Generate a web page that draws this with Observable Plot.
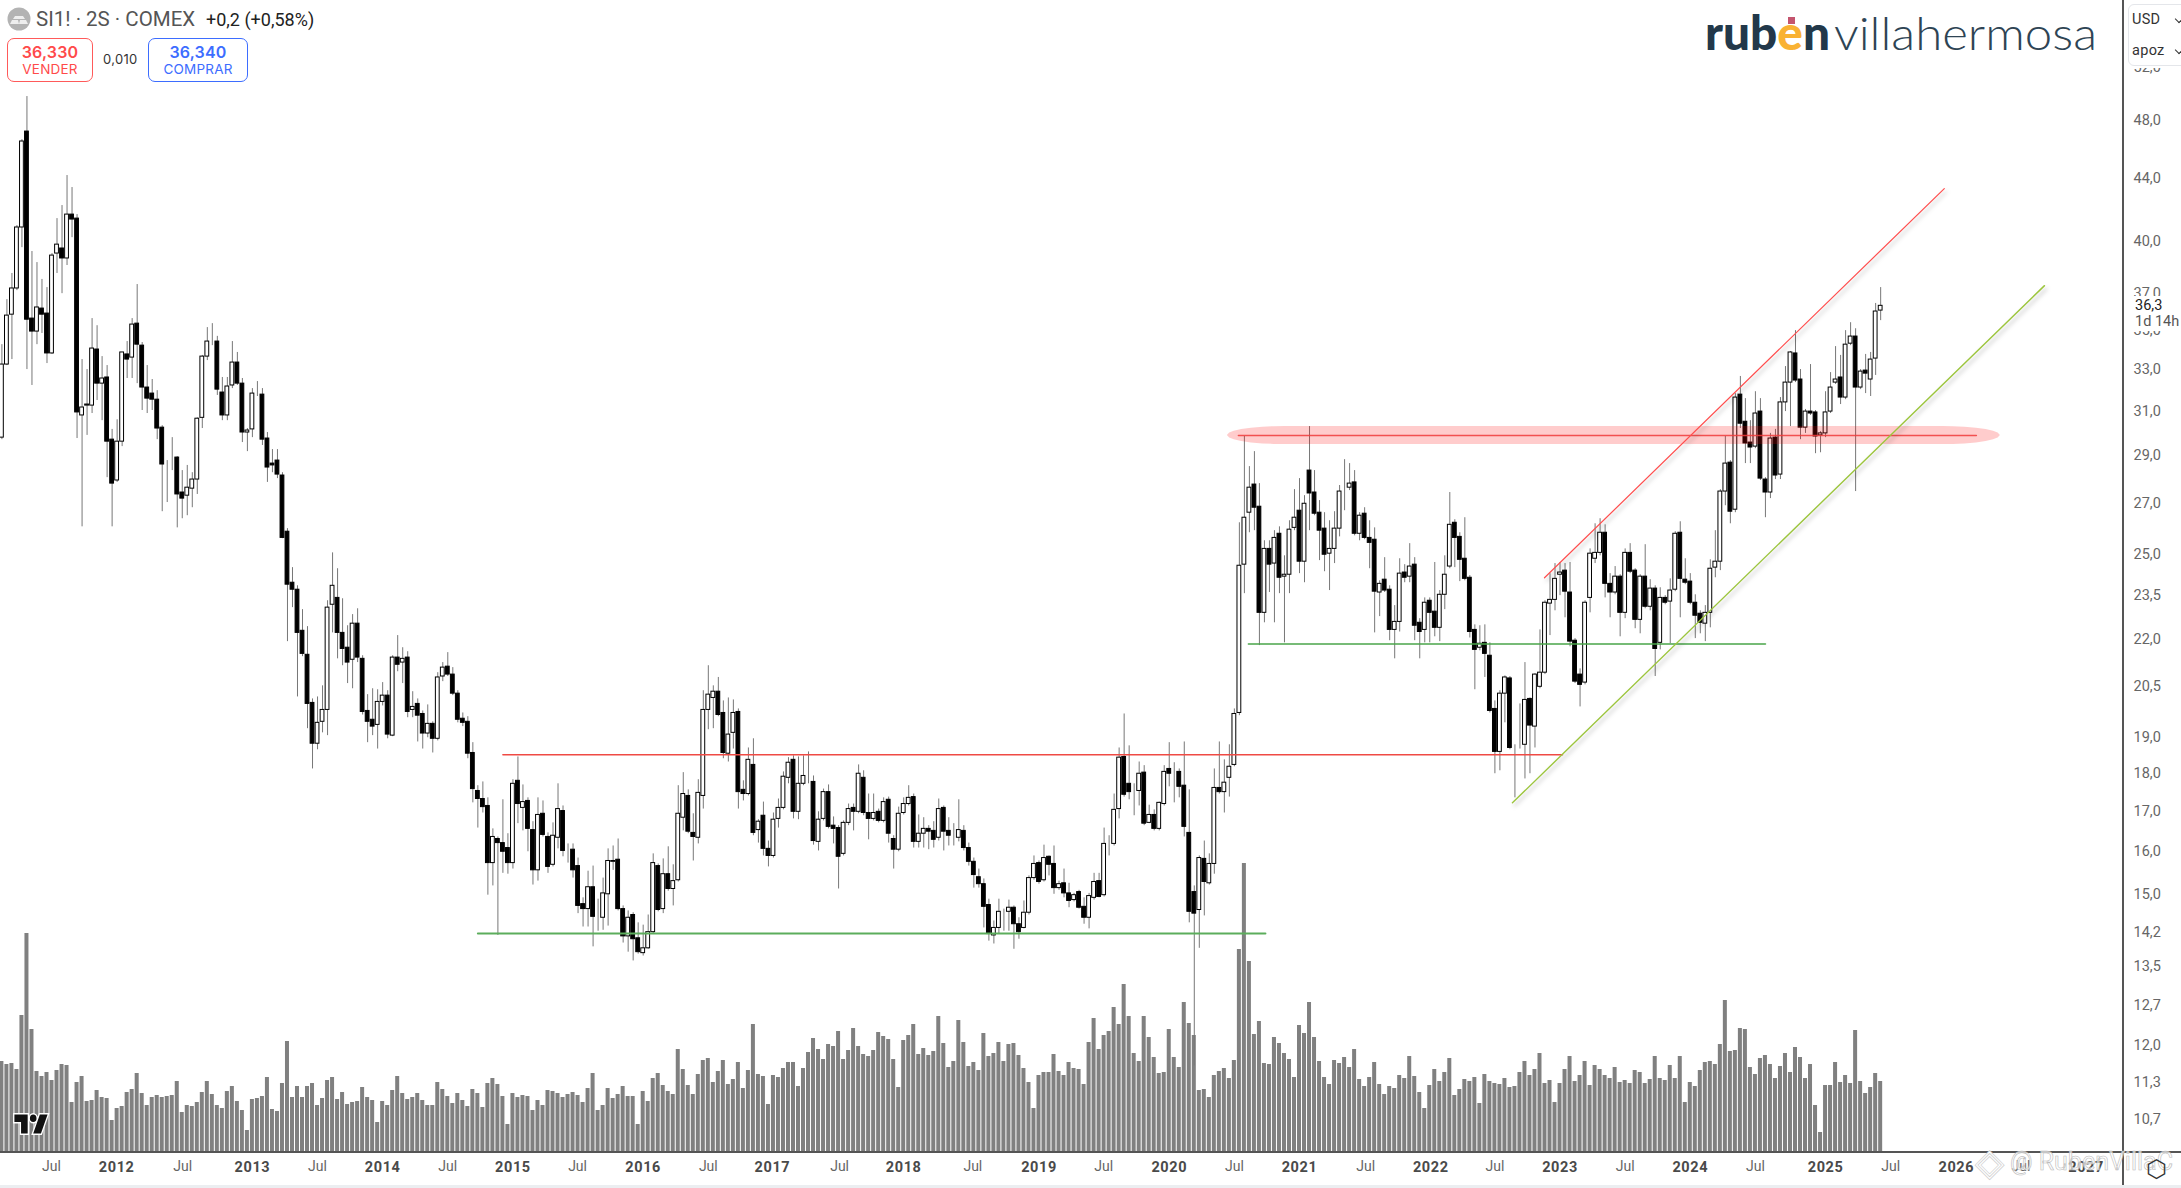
<!DOCTYPE html>
<html>
<head>
<meta charset="utf-8">
<script src="https://cdn.jsdelivr.net/npm/d3@7"></script>
<script src="https://cdn.jsdelivr.net/npm/@observablehq/plot@0.6"></script>
<style>
html,body{margin:0;padding:0;background:#fff;overflow:hidden}
#stage{position:relative;width:2181px;height:1188px;overflow:hidden;font-family:Roboto,sans-serif}
#stage svg.pl{position:absolute;left:0;top:0}
.ov{position:absolute;white-space:nowrap}
.btn{position:absolute;top:38px;height:42px;border:1px solid;border-radius:7px;text-align:center;box-sizing:content-box}
.btn b{display:block;font:600 16px/17px Inter,sans-serif;margin-top:5px;letter-spacing:.2px}
.btn span{display:block;font:400 13.5px/16px Inter,sans-serif;letter-spacing:.2px}
.tl{filter:drop-shadow(2px 3px 2px rgba(0,0,0,.28))}
.yr text{letter-spacing:.6px}
</style>
</head>
<body>
<div id="stage"></div>
<script>
const opens=[
29.80,33.26,35.85,37.29,40.87,47.21,35.64,34.95,36.18,35.91,
33.82,39.30,39.60,39.01,41.67,41.42,30.81,31.27,31.27,34.02,
32.32,32.62,29.71,27.94,29.62,33.77,33.61,35.37,34.22,32.13,
31.84,31.55,30.25,28.62,28.62,28.92,27.44,27.31,27.60,27.98,
30.70,33.66,34.43,34.43,31.89,30.81,32.23,33.36,32.32,30.03,
30.17,31.84,31.79,29.76,28.66,28.79,28.15,25.87,23.96,23.71,
22.29,21.50,20.00,18.81,19.44,19.79,23.18,23.42,22.22,21.73,
21.34,22.53,21.37,19.76,19.50,19.35,20.03,20.22,19.04,21.41,
21.25,21.41,19.79,19.97,19.67,19.10,19.38,18.95,20.81,21.12,
20.87,20.28,19.53,19.44,18.55,17.52,17.31,17.13,15.72,16.30,
16.20,16.08,15.72,17.79,17.08,17.26,16.52,15.55,16.93,16.35,
15.68,16.33,17.00,15.99,16.04,15.65,14.78,14.67,15.16,14.54,
14.48,15.00,15.75,15.80,14.67,14.08,14.54,14.04,13.73,13.83,
14.17,15.65,14.67,15.46,15.12,15.32,16.83,17.39,16.45,16.33,
17.39,19.79,20.15,20.34,19.70,18.53,19.12,19.73,17.55,17.44,
18.22,16.52,16.88,16.06,15.89,16.80,17.08,17.87,18.36,16.98,
17.71,17.87,17.76,16.23,16.80,17.49,16.63,16.57,15.94,16.70,
17.08,16.98,17.87,16.95,16.80,16.98,16.75,17.29,16.30,16.04,
16.95,17.18,17.36,16.23,16.43,16.55,16.50,16.33,17.08,16.50,
16.35,16.33,16.50,16.08,15.75,15.39,15.23,14.76,14.10,14.26,
14.61,14.61,14.70,14.34,14.26,14.59,15.37,15.72,15.32,15.87,
15.70,15.14,15.25,15.02,14.87,15.05,14.72,14.48,14.92,15.30,
14.98,16.18,16.18,17.05,18.44,17.71,17.52,17.52,18.01,16.70,
16.90,16.55,17.18,18.11,17.98,18.03,17.66,16.45,15.05,14.65,
15.82,15.25,15.70,17.60,17.49,17.87,18.22,19.70,24.62,26.62,
27.77,26.86,22.90,25.21,24.66,25.79,24.18,24.25,26.02,26.70,
24.73,28.36,27.44,26.62,25.99,25.03,25.21,25.99,27.60,27.64,
27.86,25.79,26.58,25.63,25.56,23.61,24.07,23.71,22.32,22.59,
24.33,24.18,24.62,22.56,22.32,23.32,22.94,22.39,23.53,24.55,
26.22,25.67,24.84,24.14,22.32,21.73,21.89,21.47,19.82,18.58,
20.28,20.75,18.69,18.78,18.78,20.12,19.30,20.49,20.93,23.22,
23.35,24.25,24.40,23.61,21.96,20.87,20.62,23.42,24.84,25.06,
25.83,23.92,23.61,24.18,22.90,25.06,24.40,22.66,24.18,23.11,
23.75,21.89,23.42,23.29,23.71,25.83,24.07,24.00,23.25,22.87,
22.53,22.90,24.51,24.73,27.48,28.70,26.74,31.79,30.52,29.58,
29.40,30.99,27.98,27.44,29.80,28.19,31.42,32.37,33.82,32.52,
30.25,30.99,30.95,29.90,29.99,30.99,32.37,32.62,31.65,34.32,
34.69,32.13,32.96,32.52,33.56,36.07];
const highs=[
34.27,36.67,38.14,40.99,46.64,49.76,39.42,38.77,37.80,37.34,
39.30,41.42,42.24,44.19,43.40,41.67,33.51,33.01,35.64,35.26,
33.66,33.21,30.17,30.61,33.87,34.43,35.64,37.51,34.38,33.21,
32.52,31.98,30.34,28.79,29.80,28.96,28.36,28.58,28.27,30.70,
33.72,35.16,35.37,34.70,32.62,32.62,34.43,33.87,32.57,30.21,
32.08,32.42,32.08,30.03,29.27,29.27,28.27,25.99,24.51,23.85,
23.01,22.43,20.12,20.18,20.52,23.32,25.06,24.47,23.39,22.46,
22.84,23.04,21.47,20.25,20.43,20.40,20.62,20.37,21.47,22.13,
21.73,21.60,20.34,20.12,19.76,19.94,19.44,20.93,21.25,21.57,
21.09,20.37,19.70,19.59,18.84,17.66,17.76,17.34,16.55,16.35,
17.29,16.43,17.82,18.44,17.68,17.34,16.73,17.34,17.26,16.45,
16.70,17.71,17.13,16.18,16.18,15.84,14.92,15.53,15.65,14.89,
15.37,16.06,16.13,16.30,14.74,14.63,14.59,14.37,14.32,14.54,
15.94,15.70,15.82,16.11,15.68,17.66,18.01,17.55,16.93,17.82,
20.37,21.15,20.52,20.78,20.06,20.15,20.09,19.82,17.79,18.69,
18.95,16.78,17.23,16.25,16.95,17.31,18.03,18.42,18.47,18.44,
18.47,18.58,17.92,16.98,17.57,17.68,16.85,16.63,16.75,17.18,
17.18,18.22,18.06,17.44,17.44,17.05,17.34,17.36,16.38,17.10,
17.34,17.66,17.44,16.90,16.83,16.63,16.73,17.31,17.13,16.83,
16.68,17.29,16.63,16.20,15.84,15.58,15.35,14.89,14.41,14.89,
14.67,14.87,14.74,14.48,14.85,15.42,15.89,15.77,16.15,15.89,
16.13,15.30,15.58,15.25,15.02,15.09,14.92,15.02,15.48,15.48,
16.57,16.38,17.44,18.69,19.67,18.75,17.71,18.30,18.20,17.15,
17.03,17.23,18.20,18.84,18.28,18.11,18.86,17.55,15.19,15.89,
16.25,15.94,18.11,18.86,18.36,18.78,19.82,26.22,29.85,28.53,
29.18,27.81,25.52,25.52,25.91,26.06,24.95,26.30,27.56,28.02,
27.31,30.30,28.36,27.11,26.62,26.30,26.66,27.73,28.83,28.66,
28.36,26.62,26.82,26.30,26.02,24.03,24.88,23.85,23.15,24.84,
24.62,25.41,24.88,22.70,23.42,23.42,24.70,23.68,24.95,27.44,
26.34,25.83,26.42,24.22,22.49,22.46,22.49,21.89,20.06,20.37,
20.83,20.81,18.78,19.97,21.25,20.15,20.90,22.32,23.32,24.29,
24.66,24.70,24.66,24.70,22.03,21.05,23.32,25.21,26.18,26.38,
26.14,24.29,24.55,24.25,25.21,25.41,24.47,24.25,25.37,24.07,
23.85,23.78,23.50,24.10,25.87,26.26,24.84,24.29,23.53,22.97,
23.15,24.80,25.91,27.56,29.85,28.79,31.84,32.67,31.60,30.57,
31.93,31.60,28.06,29.99,30.17,31.65,33.16,33.92,35.00,33.01,
31.09,33.26,31.04,30.07,31.93,32.86,34.17,33.72,35.00,35.42,
35.10,33.01,33.77,33.87,36.46,37.34];
const lows=[
29.71,33.21,33.51,37.17,39.65,33.01,32.23,34.27,34.85,33.31,
33.77,38.14,37.00,38.60,40.25,29.76,26.06,29.90,30.90,31.51,
30.57,28.06,26.06,27.86,29.40,32.57,32.57,32.32,31.04,30.90,
31.04,29.71,26.66,27.03,28.36,26.02,26.38,26.50,26.82,27.36,
30.21,33.46,34.22,31.75,30.57,30.57,32.08,32.23,29.58,29.18,
29.80,31.70,29.45,27.86,28.27,28.02,25.60,21.93,23.08,20.18,
21.44,19.24,18.11,18.64,19.12,19.04,22.22,21.37,21.15,20.59,
20.43,21.25,19.64,18.84,19.04,18.66,19.91,18.95,19.01,20.96,
20.59,19.56,19.56,18.86,18.66,18.98,18.55,18.89,20.65,20.81,
20.22,19.41,19.30,18.39,17.21,16.57,16.95,14.98,15.19,14.10,
15.48,15.46,15.58,16.68,16.50,15.99,15.21,15.30,16.35,15.48,
15.63,16.06,15.87,15.72,15.37,14.57,14.28,14.28,13.86,14.19,
14.21,14.30,15.55,14.63,13.94,13.75,13.57,13.71,13.67,13.81,
14.13,14.61,14.57,15.07,14.74,15.28,16.50,16.43,15.77,16.18,
17.05,19.21,19.24,19.59,18.39,18.30,18.66,17.05,17.26,17.39,
16.38,16.20,15.89,15.63,15.84,16.57,17.03,17.71,16.80,16.78,
17.66,17.71,16.15,16.01,16.75,16.55,16.18,15.12,15.89,16.63,
16.50,16.93,16.88,16.28,16.75,16.70,16.70,16.20,15.58,15.99,
16.90,17.13,16.08,16.08,16.08,16.04,16.08,16.25,16.01,16.13,
16.13,16.23,16.01,15.65,15.14,15.14,14.26,13.98,13.92,14.13,
14.19,14.19,13.81,14.02,14.24,14.54,15.32,15.23,15.28,15.42,
15.00,15.09,14.92,14.70,14.83,14.67,14.34,14.24,14.87,14.92,
14.94,15.89,16.13,16.80,17.36,17.29,16.88,17.13,16.63,16.68,
16.50,16.50,17.13,17.63,17.21,17.34,16.35,14.37,11.59,13.83,
14.52,15.21,15.46,17.44,16.95,17.36,18.17,19.62,23.57,25.83,
25.91,21.80,22.56,23.61,22.56,23.57,21.89,23.57,25.91,24.29,
23.96,25.91,26.50,24.77,24.36,23.68,24.66,25.67,26.70,27.52,
25.71,25.52,25.56,24.47,22.22,22.77,23.61,21.96,21.37,22.25,
23.96,23.96,21.96,21.37,21.89,21.89,22.09,21.93,23.01,24.47,
24.51,24.00,24.03,22.05,20.40,21.63,20.78,19.70,17.98,18.06,
19.41,18.64,17.34,18.66,17.84,17.98,18.69,20.43,20.87,22.13,
22.97,23.50,22.73,21.76,20.59,19.88,20.55,22.90,24.66,24.95,
23.42,22.73,23.53,22.09,22.70,24.29,22.36,22.19,23.04,22.97,
20.81,21.66,23.18,21.86,23.64,22.73,23.89,23.18,22.03,22.19,
21.93,22.39,24.14,24.40,26.90,26.18,26.62,30.21,28.66,28.66,
29.31,27.94,26.42,27.19,27.98,27.98,30.99,30.30,32.37,29.71,
29.99,30.81,29.09,29.13,29.80,30.90,32.28,31.32,31.55,34.22,
27.48,32.03,31.84,31.70,32.72,35.53];
const closes=[
33.26,35.80,37.29,40.87,46.51,35.58,34.95,36.24,35.85,33.82,
39.18,39.83,39.01,41.67,41.36,30.95,31.18,31.32,34.07,32.32,
32.57,29.62,27.81,29.62,33.87,33.51,35.32,34.27,32.13,31.60,
31.55,30.21,28.62,28.62,28.62,27.36,27.19,27.64,27.98,30.66,
33.66,34.43,34.43,32.03,30.81,32.18,33.36,32.32,30.03,30.12,
31.84,31.84,29.71,28.49,28.58,28.19,25.63,23.89,23.71,22.22,
21.53,19.97,18.81,19.41,19.79,23.08,23.85,22.22,21.69,21.25,
22.53,21.41,19.73,19.44,19.30,20.03,20.22,19.07,21.41,21.18,
21.37,19.73,19.88,19.62,19.10,19.38,18.95,20.78,21.09,20.87,
20.28,19.50,19.41,18.53,17.57,17.31,17.10,15.72,16.35,16.20,
15.99,15.72,17.71,17.18,17.23,16.55,15.55,16.90,16.40,15.63,
16.38,17.05,16.01,15.99,15.55,14.74,14.67,15.16,14.50,14.54,
15.02,15.77,15.77,14.67,14.08,14.48,14.02,13.75,13.83,14.17,
15.72,14.65,15.46,15.12,15.30,16.93,17.44,16.48,16.35,17.47,
19.79,20.25,20.34,19.64,18.55,19.07,19.70,17.49,17.44,18.36,
16.45,16.73,16.06,15.89,16.78,17.08,17.90,18.28,16.98,17.71,
17.92,17.87,16.25,16.78,17.49,16.60,16.55,15.87,16.70,17.05,
16.98,17.98,16.95,16.80,16.95,16.75,17.23,16.43,16.04,16.93,
17.18,17.34,16.23,16.43,16.55,16.48,16.28,17.05,16.48,16.38,
16.35,16.52,16.08,15.75,15.44,15.23,14.72,14.13,14.26,14.61,
14.61,14.70,14.34,14.17,14.59,15.37,15.70,15.28,15.84,15.68,
15.14,15.23,15.02,14.85,14.98,14.70,14.48,14.96,15.28,14.94,
16.18,16.18,17.03,18.42,17.42,17.49,17.52,17.98,16.68,16.90,
16.55,17.21,18.03,17.98,17.98,17.63,16.60,14.61,14.57,15.84,
15.28,15.70,17.60,17.49,17.74,18.17,19.67,24.58,26.42,27.64,
26.82,22.90,25.21,24.62,25.63,24.14,24.25,25.95,26.42,24.73,
26.98,27.40,26.58,25.91,24.99,25.21,25.99,27.48,27.60,27.81,
25.79,26.50,25.63,25.44,23.64,23.92,23.68,22.32,22.59,24.29,
24.14,24.55,22.46,22.25,23.25,22.90,22.39,23.53,24.25,26.14,
25.63,24.80,24.10,22.25,21.66,21.86,21.53,19.76,18.58,20.28,
20.78,18.69,18.69,18.78,20.09,19.33,20.87,20.93,23.25,23.35,
24.10,24.33,23.64,21.93,20.65,20.55,23.25,25.03,25.06,25.83,
23.92,23.61,24.18,22.90,25.06,24.36,22.66,24.18,23.11,23.75,
21.69,23.42,23.25,23.68,25.79,24.10,23.96,23.25,22.80,22.56,
22.90,24.47,24.73,27.48,28.66,26.66,31.65,30.43,29.54,29.36,
30.90,28.02,27.44,29.76,28.15,31.42,32.37,33.87,32.47,30.25,
30.99,30.90,29.85,29.99,30.95,32.13,32.52,31.65,34.27,34.69,
32.13,32.91,32.81,33.51,36.02,36.33];
const volumes=[
270,261,264,246,408,654,366,240,225,237,
213,243,261,258,147,207,225,150,153,183,
162,159,93,129,135,177,186,234,174,138,
162,168,162,165,168,210,117,138,135,147,
177,210,171,138,129,180,195,150,123,63,
156,159,165,222,126,120,204,330,162,195,
162,195,204,138,159,213,222,156,177,141,
147,150,192,162,153,87,150,138,183,225,
174,156,162,174,153,138,138,207,186,165,
144,174,153,135,186,174,132,204,219,201,
165,81,174,162,168,165,123,153,138,183,
180,174,162,171,177,168,147,189,234,123,
138,189,159,171,195,165,165,81,180,150,
219,234,198,180,171,306,246,198,171,231,
273,279,207,240,273,201,216,267,189,243,
381,231,225,141,228,222,249,267,267,195,
249,297,339,306,276,321,315,360,276,303,
369,315,291,285,303,357,345,336,276,192,
333,348,381,291,309,288,300,405,324,252,
270,393,327,255,267,243,354,285,294,327,
270,321,324,288,249,207,129,228,237,237,
291,240,228,267,249,246,201,327,399,306,
348,360,432,381,501,405,294,270,405,342,
282,234,237,366,282,252,447,384,348,183,
186,162,228,240,249,219,273,606,864,570,
351,390,264,261,342,324,294,276,222,378,
354,447,342,270,222,201,273,264,282,252,
306,216,195,222,267,201,171,195,189,228,
219,285,225,177,129,198,246,210,237,279,
168,186,216,210,222,144,231,210,204,201,
219,192,195,237,270,228,246,294,204,213,
147,204,246,285,210,228,270,198,258,246,
228,219,252,207,213,204,243,237,204,216,
285,219,213,258,219,285,147,207,195,243,
267,270,261,321,453,300,303,369,366,252,
231,279,288,261,219,255,294,237,312,282,
219,261,138,57,198,198,267,207,228,204,
363,210,174,192,234,210];

// price axis of the reference (levels sit at unrounded prices, labels show one decimal)
const priceTicks=[52,48,44,40,37,35,33,31,29,27,25,23.5,22,20.5,19,18,17,16,15,14.16,13.46,12.7,11.96,11.3,10.7];
// time axis: labels sit on bar numbers (bar 0 = early 2011, one bar every two weeks)
const julBars=[9.9,36.1,63,89,114.9,141,167.2,193.8,219.9,246,272.2,298,324,350,377,403];
const yearBars=[22.9,50,76,102,128,153.8,180,207,233,259,285.2,311,337,364,390.1,416];
const yearNames=["2012","2013","2014","2015","2016","2017","2018","2019","2020","2021","2022","2023","2024","2025","2026","2027"];

// drawn levels and trend lines (bar number, price)
const level1={x:[100,311.5],y:18.50};
const level2={x:[95,252.2],y:14.14};
const level3={x:[248.8,352],y:21.85};
const level4={x:[246.8,394.1],y:29.90};
const upperTrend=[[307.9,24.14],[387.7,43.33]];
const lowerTrend=[[301.5,17.21],[407.7,37.45]];
const zone={from:244.6,to:398.9,taper:11.4,mid:29.9,top:30.30,bottom:29.49};
const taperSteps=[0,.04,.12,.25,.42,.62,.82,1];

const W=2181,H=1188,PR=2122,PB=1151;
const xScale={type:"linear",domain:[-0.28,423.27],range:[0,PR],label:null};
const rows=closes.map((c,i)=>({i,open:opens[i],high:highs[i],low:lows[i],close:c,vol:volumes[i],
  top:Math.max(opens[i],c),bot:Math.min(opens[i],c),up:c>=opens[i]}));
const bw=0.38;

// elliptical highlight: width tapers at both ends of the zone
const edge=f=>Math.sqrt(1-(1-f)*(1-f));
const zoneRows=[
  ...taperSteps.map(f=>({x:zone.from+f*zone.taper,f:edge(f)})),
  ...taperSteps.slice().reverse().map(f=>({x:zone.to-f*zone.taper,f:edge(f)}))
].map(d=>({x:d.x,hi:zone.mid*Math.pow(zone.top/zone.mid,d.f),lo:zone.mid*Math.pow(zone.bottom/zone.mid,d.f)}));

const fmt=d=>d.toFixed(1).replace(".",",");
const seg=l=>l.x.map(x=>({x,y:l.y}));
const pts=a=>a.map(([x,y])=>({x,y}));

const volPlot=Plot.plot({
  width:W,height:H,marginTop:0,marginLeft:0,marginRight:W-PR,marginBottom:H-PB,
  className:"pl",
  style:{background:"transparent"},
  x:{...xScale,axis:null},
  y:{domain:[0,864],range:[PB,PB-288],axis:null,label:null},
  marks:[Plot.rect(rows,{x1:d=>d.i-0.4,x2:d=>d.i+0.4,y1:0,y2:"vol",fill:"#808080"})]
});

const pricePlot=Plot.plot({
  width:W,height:H,marginTop:0,marginLeft:0,marginRight:W-PR,marginBottom:H-PB,
  className:"pl",
  style:{background:"transparent",fontFamily:"Roboto,sans-serif"},
  x:xScale,
  y:{type:"log",domain:[10.19,57.49],range:[PB,0],label:null},
  marks:[
    Plot.ruleX(rows,{x:"i",y1:"low",y2:"high",stroke:"#777",strokeWidth:1}),
    Plot.rect(rows,{x1:d=>d.i-bw,x2:d=>d.i+bw,y1:"bot",y2:"top",
      fill:d=>d.up?"#fff":"#000",stroke:"#000",strokeWidth:1}),
    Plot.area(zoneRows,{x1:"x",y1:"lo",y2:"hi",fill:"#ff0000",fillOpacity:.2}),
    Plot.line(seg(level4),{x:"x",y:"y",stroke:"#f03a3a",strokeWidth:1.5,strokeOpacity:.85}),
    Plot.line(seg(level1),{x:"x",y:"y",stroke:"#ef4a44",strokeWidth:1.5}),
    Plot.line(seg(level2),{x:"x",y:"y",stroke:"#5cad5c",strokeWidth:2}),
    Plot.line(seg(level3),{x:"x",y:"y",stroke:"#4aa54a",strokeWidth:1.6}),
    Plot.line(pts(upperTrend),{x:"x",y:"y",stroke:"#ff4d4d",strokeWidth:1.2,className:"tl"}),
    Plot.line(pts(lowerTrend),{x:"x",y:"y",stroke:"#9cc53d",strokeWidth:1.4,className:"tl"}),
    Plot.axisY({anchor:"right",ticks:priceTicks,tickFormat:fmt,tickSize:0,tickPadding:11,
      fontSize:14.5,fill:"#666",label:null}),
    Plot.axisX({anchor:"bottom",ticks:julBars,tickFormat:()=>"Jul",tickSize:0,tickPadding:10,
      fontSize:14,fill:"#666",label:null}),
    Plot.axisX({anchor:"bottom",ticks:yearBars,tickFormat:d=>yearNames[yearBars.indexOf(d)],tickSize:0,tickPadding:10,
      fontSize:14.5,fontWeight:700,fill:"#4a4a4a",label:null,className:"yr"})
  ]
});

const stage=document.getElementById("stage");
stage.append(volPlot,pricePlot);
volPlot.classList.add("pl");pricePlot.classList.add("pl");

const chrome=`
<div class="ov" style="left:${PR}px;top:0;width:1.5px;height:1185px;background:#555"></div>
<div class="ov" style="left:0;top:${PB}px;width:2181px;height:1.5px;background:#555"></div>
<div class="ov" style="left:0;top:1185px;width:2181px;height:3px;background:#eceef1"></div>
<div class="ov" style="left:2124px;top:0;width:57px;height:68px;background:#fff"></div>
<div class="ov" style="left:2128px;top:4px;width:70px;height:60px;border:1px solid #e4e6ea;border-radius:6px;background:#fff"></div>
<div class="ov" style="left:2132px;top:11px;font:14.5px/18px Roboto,sans-serif;color:#333;letter-spacing:.3px">USD</div>
<div class="ov" style="left:2132px;top:42px;font:14.5px/18px Roboto,sans-serif;color:#333;letter-spacing:.3px">apoz</div>
<div class="ov" style="left:2176px;top:16px;width:5px;height:5px;border-right:1.5px solid #333;border-bottom:1.5px solid #333;transform:rotate(45deg)"></div>
<div class="ov" style="left:2176px;top:47px;width:5px;height:5px;border-right:1.5px solid #333;border-bottom:1.5px solid #333;transform:rotate(45deg)"></div>
<div class="ov" style="left:2124px;top:296px;width:57px;height:35px;background:#fff"></div>
<div class="ov" style="left:2135px;top:297px;font:14.5px/17px Roboto,sans-serif;color:#222">36,3</div>
<div class="ov" style="left:2135px;top:313px;font:14.5px/17px Roboto,sans-serif;color:#555">1d 14h</div>

<svg class="ov" style="left:7px;top:7px" width="24" height="24" viewBox="0 0 24 24">
  <circle cx="12" cy="12" r="11.5" fill="#b3b3b3"/>
  <path d="M8 9h8l2 3H6zM5 13h6l1 4H3zM13 13h6l2 4h-9z" fill="#eee"/>
</svg>
<div class="ov" style="left:36px;top:7px;font:400 20.5px/24px Roboto,sans-serif;color:#555">SI1! · 2S · COMEX</div>
<div class="ov" style="left:206px;top:9px;font:400 18px/21px Roboto,sans-serif;color:#222">+0,2 (+0,58%)</div>
<div class="btn" style="left:7px;width:84px;border-color:#ff5a5a;color:#ff4a4a"><b>36,330</b><span>VENDER</span></div>
<div class="ov" style="left:103px;top:50px;font:13px/18px Inter,sans-serif;color:#333;letter-spacing:.3px">0,010</div>
<div class="btn" style="left:148px;width:98px;border-color:#3d6dff;color:#3d6dff"><b>36,340</b><span>COMPRAR</span></div>

<svg class="ov" style="left:1700px;top:4px" width="410" height="60">
  <text x="5" y="46" font-family="Lato,sans-serif" font-weight="900" font-size="47" fill="#22384a" textLength="125" lengthAdjust="spacingAndGlyphs">rub<tspan fill="#f9b233">e</tspan>n</text>
  <text x="134" y="46" font-family="Lato,sans-serif" font-weight="300" font-size="46" fill="#2e4454" textLength="263" lengthAdjust="spacingAndGlyphs">villahermosa</text>
  <rect x="88" y="13" width="7" height="7" fill="#c4556e"/>
</svg>

<svg class="ov" style="left:10px;top:1112px" width="42" height="24" viewBox="-2 4 38 19" preserveAspectRatio="none">
  <path d="M14 6H2v6h6v9h6V6zm12 15h-7l6-15h7l-6 15zm-7-9a3 3 0 1 0 0-6 3 3 0 0 0 0 6z" fill="#111" stroke="#fff" stroke-width="2.4" paint-order="stroke"/>
</svg>

<div class="ov" style="left:1975px;top:1140px;font:38px/44px 'DejaVu Sans',sans-serif;color:#fff;-webkit-text-stroke:.7px #ccc">◈</div>
<div class="ov" style="left:2010px;top:1148px;font:400 25px/28px Roboto,sans-serif;color:rgba(255,255,255,.7);-webkit-text-stroke:.6px #bbb">@ RubenVillaC</div>
<div class="ov" style="left:2146px;top:1156px;font:24px/26px 'DejaVu Sans',sans-serif;color:#333">⬡</div>
`;
const holder=document.createElement("div");
holder.innerHTML=chrome;
while(holder.firstChild)stage.append(holder.firstChild);
</script>
</body>
</html>
